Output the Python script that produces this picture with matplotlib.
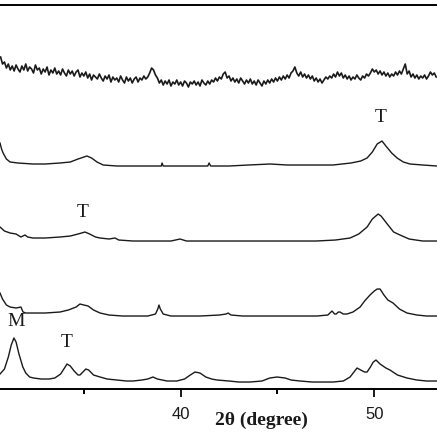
import numpy as np
import matplotlib
matplotlib.use("Agg")
import matplotlib.pyplot as plt

# stacked XRD patterns, intensity in arbitrary units (already offset)
# top pattern: noisy, sampled every 0.1 deg from 30.7 to 53.2
top_y = [
    332, 325, 327, 321, 325, 319, 323, 318, 324, 320,
    317, 323, 319, 325, 318, 322, 320, 316, 324, 319,
    321, 315, 320, 317, 322, 314, 319, 316, 321, 315,
    318, 314, 320, 316, 313, 319, 315, 318, 313, 317,
    319, 312, 316, 313, 317, 311, 315, 309, 314, 312,
    310, 315, 311, 308, 313, 310, 314, 307, 312, 309,
    311, 307, 313, 309, 306, 312, 308, 311, 306, 310,
    312, 307, 311, 309, 313, 310, 312, 316, 321, 319,
    314, 311, 306, 309, 304, 308, 305, 309, 303, 307,
    305, 309, 304, 307, 303, 308, 306, 302, 307, 305,
    308, 304, 307, 303, 309, 306, 304, 308, 305, 309,
    307, 311, 308, 312, 310, 315, 317, 311, 313, 308,
    311, 307, 310, 306, 311, 308, 305, 309, 306, 310,
    305, 308, 304, 309, 306, 303, 308, 305, 309, 306,
    310, 307, 311, 308, 312, 309, 313, 310, 314, 311,
    316, 318, 322, 316, 313, 317, 312, 315, 311, 314,
    310, 313, 308, 311, 307, 310, 306, 309, 312, 310,
    313, 311, 315, 312, 317, 313, 316, 311, 314, 310,
    313, 309, 312, 310, 314, 311, 309, 313, 311, 315,
    313, 316, 320, 317, 319, 315, 318, 314, 317, 313,
    316, 312, 315, 313, 317, 314, 318, 315, 320, 325,
    315, 318, 312, 315, 311, 314, 310, 313, 311, 314,
    310, 313, 317, 314, 316, 312,
]
top_x = np.linspace(30.7, 53.2, len(top_y))

p2_x = [30.67, 30.75, 30.83, 31.0, 31.19, 31.6, 32.37, 33.0, 33.77, 34.3,
        34.7, 35.16, 35.4, 35.68, 36.0, 36.71, 37.5, 38.5, 39.0, 39.04,
        39.1, 40.0, 41.0, 41.4, 41.47, 41.55, 42.5, 43.5, 44.62, 45.5,
        46.5, 47.87, 48.8, 49.3, 49.63, 49.9, 50.15, 50.4, 50.6, 50.9,
        51.18, 51.5, 51.85, 52.5, 53.24]
p2_y = [246, 240, 236, 230, 227, 226, 225, 225, 226, 227,
        230, 233, 231, 227, 224, 223, 223, 223, 223, 226,
        223, 223, 223, 223, 226, 223, 223, 224, 225, 224,
        224, 224, 226, 228, 231, 237, 245, 248, 243, 236,
        231, 227, 225, 224, 223]

p3_x = [30.67, 30.9, 31.19, 31.5, 31.75, 31.96, 32.1, 32.37, 33.0, 33.77,
        34.3, 34.7, 35.06, 35.3, 35.6, 35.84, 36.3, 36.61, 36.8, 37.54,
        38.5, 39.5, 39.97, 40.3, 41.0, 42.0, 43.5, 45.5, 47.0, 48.0,
        48.75, 49.2, 49.63, 49.9, 50.2, 50.35, 50.71, 51.0, 51.33, 51.8,
        52.5, 53.24]
p3_y = [162, 158, 156, 155, 152, 154, 152, 151, 151, 152,
        153, 155, 157, 155, 152, 151, 150, 151, 149, 148,
        148, 148, 150, 148, 148, 148, 148, 148, 148, 149,
        151, 155, 162, 170, 175, 173, 164, 157, 154, 150,
        148, 148]

p4_x = [30.67, 30.8, 31.0, 31.19, 31.5, 31.75, 31.86, 32.0, 32.37, 33.0,
        33.77, 34.2, 34.6, 34.8, 35.0, 35.22, 35.5, 35.84, 36.3, 37.0,
        37.54, 38.3, 38.7, 38.82, 38.88, 38.95, 39.1, 39.5, 40.12, 41.0,
        42.0, 42.35, 42.45, 42.6, 43.2, 44.46, 45.5, 46.5, 47.04, 47.6,
        47.82, 47.95, 48.03, 48.15, 48.23, 48.4, 48.59, 48.9, 49.27, 49.5,
        49.78, 50.0, 50.15, 50.3, 50.5, 50.7, 50.97, 51.3, 51.69, 52.2,
        52.7, 53.24]
p4_y = [96, 90, 84, 82, 81, 82, 77, 76, 76, 76,
        77, 79, 82, 85, 84, 83, 79, 76, 74, 73,
        73, 73, 75, 80, 84, 80, 75, 73, 73, 73,
        74, 75, 76, 74, 73, 73, 73, 73, 73, 74,
        78, 75, 75, 77, 77, 75, 75, 77, 82, 88,
        94, 98, 100, 100, 94, 89, 86, 80, 76, 74,
        73, 73]

p5_x = [30.67, 30.9, 31.1, 31.25, 31.39, 31.5, 31.65, 31.85, 32.0, 32.2,
        32.4, 32.8, 33.2, 33.5, 33.8, 34.0, 34.13, 34.3, 34.5, 34.7,
        34.8, 34.95, 35.1, 35.25, 35.5, 35.84, 36.2, 36.71, 37.2, 37.54,
        38.0, 38.3, 38.57, 38.8, 39.3, 39.8, 40.2, 40.5, 40.74, 41.0,
        41.3, 41.6, 41.88, 42.5, 43.0, 43.58, 44.2, 44.6, 44.98, 45.4,
        45.7, 46.17, 46.8, 47.87, 48.4, 48.75, 48.95, 49.11, 49.3, 49.5,
        49.63, 49.8, 49.95, 50.09, 50.3, 50.6, 50.81, 51.2, 51.69, 52.2,
        52.7, 53.24]
p5_y = [15, 20, 32, 44, 51, 47, 35, 22, 16, 12,
        11, 10, 10, 11, 15, 21, 25, 23, 18, 14,
        14, 17, 20, 19, 14, 12, 10, 9, 8, 8,
        9, 10, 12, 10, 8, 8, 10, 14, 17, 16,
        12, 10, 9, 8, 7, 7, 8, 11, 12, 11,
        9, 8, 7, 7, 8, 12, 17, 21, 19, 17,
        17, 22, 27, 29, 25, 21, 19, 14, 11, 9,
        8, 8]

labels = ["M", "T", "T", "T"]
label_x = [31.50, 34.13, 34.96, 50.35]
label_y = [68, 47, 177, 272]

fig = plt.figure(figsize=(4.37, 4.37), dpi=100)
ax = fig.add_axes([0.0, 0.1098, 1.0, 0.8799])

col = "#1a1a1a"
ax.plot(top_x, top_y, color=col, lw=1.2)
for xs, ys in [(p2_x, p2_y), (p3_x, p3_y), (p4_x, p4_y), (p5_x, p5_y)]:
    ax.plot(xs, ys, color=col, lw=1.0)

for s, x, y in zip(labels, label_x, label_y):
    ax.text(x, y, s, ha="center", va="center", fontsize=14,
            family=["Liberation Serif", "DejaVu Serif"], color=col)

ax.set_xlim(30.67, 53.24)
ax.set_ylim(0, 384.5)
ax.set_yticks([])
ax.set_xticks([40, 50])
ax.set_xticks([35, 45], minor=True)
ax.tick_params(axis="x", which="major", direction="out", length=6, width=1.4,
               pad=7, labelsize=12, colors=col)
ax.tick_params(axis="x", which="minor", direction="out", length=3.5, width=1.4)
for lab in ax.get_xticklabels():
    lab.set_family(["Liberation Sans", "DejaVu Sans"])
ax.spines["left"].set_visible(False)
ax.spines["right"].set_visible(False)
ax.spines["top"].set_linewidth(1.4)
ax.spines["bottom"].set_linewidth(1.4)

fig.text(261 / 437, (437 - 420) / 437, "2\u03b8 (degree)", ha="center", va="center",
         fontsize=14, fontweight="bold", family=["Liberation Serif", "DejaVu Serif"],
         color=col)

fig.savefig("out.png", dpi=100)
